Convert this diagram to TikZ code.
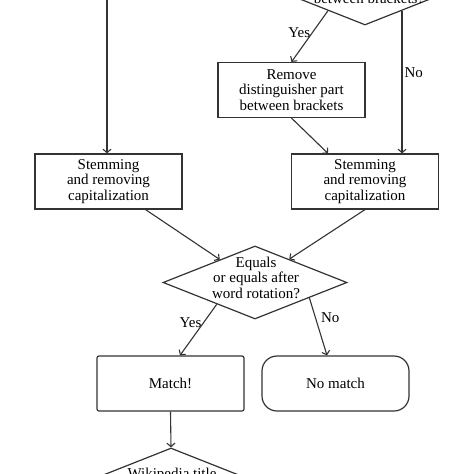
\documentclass[tikz,border=0pt]{standalone}
\usepackage{fontspec}
\setmainfont{Liberation Serif}
\usetikzlibrary{shapes.geometric,arrows.meta,calc}
\begin{document}
\begin{tikzpicture}[x=1pt,y=-1pt,
  txt/.style={font=\fontsize{15}{15.5}\selectfont, text=black},
  box/.style={txt, draw=black!80, line width=1.2pt, minimum width=147pt, minimum height=55pt, align=center, inner sep=0pt},
  dia/.style={draw=black!80, line width=1.2pt, shape=diamond, minimum width=184pt, minimum height=73pt, inner sep=0pt},
  conn/.style={draw=black!80, line width=1.1pt, -{Straight Barb[length=3.5pt,width=8pt]}},
  lab/.style={txt, inner sep=2pt}
]
\useasboundingbox (0,0) rectangle (474,474);
\clip (0,0) rectangle (474,474);
\fill[white] (0,0) rectangle (474,474);

% top decision (cut off)
\node[dia] (top) at (365,-11.5) {};
\node[txt, anchor=base] (toptext) at (369,3) {between brackets?};
\coordinate (lin) at (107,-10);

% boxes
\node[box] (remove) at (291.5,90) {Remove\\distinguisher part\\between brackets};
\node[box] (lstem) at (108.5,181.5) {Stemming\\and removing\\capitalization};
\node[box] (rstem) at (365,181.5) {Stemming\\and removing\\capitalization};

% equals decision
\node[dia] (eq) at (255,282.5) {};
\node[txt, align=center] (eqtext) at (256,277.5) {Equals\\or equals after\\word rotation?};

% results
\node[box, rounded corners=2pt] (match) at (170.5,383.5) {Match!};
\node[box, rounded corners=15pt] (nomatch) at (335.5,383.5) {No match};

% bottom decision (cut off)
\node[dia] (wiki) at (171,484.5) {};
\node[txt, anchor=base] (wikitext) at (172,478) {Wikipedia title};

% connectors
\coordinate (tyes) at ($(top.south)!0.4!(top.west)$);
\coordinate (tno) at ($(top.south)!0.4!(top.east)$);
\draw[conn] (lin) -- (lin |- lstem.north);
\draw[conn] (tyes) -- node[lab, pos=0.42, left] (yes1) {Yes} (remove.north);
\draw[conn] (tno) -- node[lab, pos=0.436, right] (no1) {No} (tno |- rstem.north);
\draw[conn] (remove.south) -- ($(rstem.north west)!0.25!(rstem.north east)$);
\draw[conn] ($(lstem.south west)!0.75!(lstem.south east)$) -- ($(eq.west)!0.62!(eq.north)$);
\draw[conn] (rstem.south) -- ($(eq.north)!0.37!(eq.east)$);
\draw[conn] ($(eq.west)!0.587!(eq.south)$) -- node[lab, pos=0.35, left] (yes2) {Yes} ($(match.north)+(9.5,0)$);
\draw[conn] ($(eq.south)!0.587!(eq.east)$) -- node[lab, pos=0.35, right, inner sep=5pt] (no2) {No} ($(nomatch.north)+(-8.5,0)$);
\draw[conn] (match.south) -- (wiki.north);
\end{tikzpicture}
\end{document}
